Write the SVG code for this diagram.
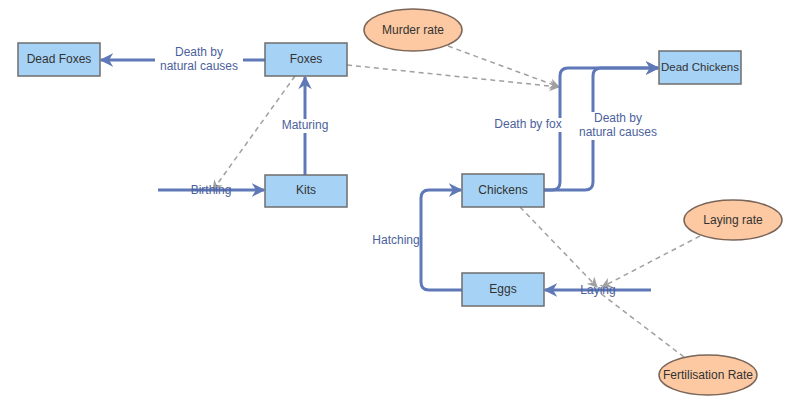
<svg xmlns="http://www.w3.org/2000/svg" width="800" height="406" viewBox="0 0 800 406">
<style>
.box{fill:#a6d2f6;stroke:#6e6e6e;stroke-width:1.5}
.ell{fill:#fcc9a2;stroke:#7a6558;stroke-width:1.5}
.t{font-family:"Liberation Sans",sans-serif;font-size:12px;fill:#333;text-anchor:middle;dominant-baseline:middle}
.lbl{font-family:"Liberation Sans",sans-serif;font-size:12px;fill:#4c5f9c;text-anchor:middle;dominant-baseline:middle}
.flow{fill:none;stroke:#5f78b8;stroke-width:3;stroke-linejoin:round}
.dash{fill:none;stroke:#a0a0a0;stroke-width:1.5;stroke-dasharray:5,4}
</style>
<defs>
<marker id="fa" viewBox="0 0 10 10" refX="9" refY="5" markerWidth="4.5" markerHeight="4.5" orient="auto" markerUnits="strokeWidth"><path d="M0,0 L10,5 L0,10 L3,5 z" fill="#5f78b8"/></marker>
<marker id="da" viewBox="0 0 10 10" refX="9" refY="5" markerWidth="7" markerHeight="7" orient="auto" markerUnits="strokeWidth"><path d="M0,0 L10,5 L0,10 L3,5 z" fill="#a0a0a0"/></marker>
</defs>
<g id="connectors">
<path class="dash" d="M347,65 L559,87" marker-end="url(#da)"/>
<path class="dash" d="M448,46 L559,87" marker-end="url(#da)"/>
<path class="dash" d="M295,76 L213,190" marker-end="url(#da)"/>
<path class="dash" d="M520,207 L597,287" marker-end="url(#da)"/>
<path class="dash" d="M700,236 L602,287" marker-end="url(#da)"/>
<path class="dash" d="M684,357 L600,293"/>
<path class="flow" d="M265,60 L101,60" marker-end="url(#fa)"/>
<path class="flow" d="M305,175 L305,77" marker-end="url(#fa)"/>
<path class="flow" d="M158,190 L264,190" marker-end="url(#fa)"/>
<path class="flow" d="M544,190 L552,190 Q560,190 560,182 L560,76 Q560,68 568,68 L658,68" marker-end="url(#fa)"/>
<path class="flow" d="M544,190 L585,190 Q593,190 593,182 L593,76 Q593,68 601,68 L658,68" marker-end="url(#fa)"/>
<path class="flow" d="M462,290 L429,290 Q421,290 421,282 L421,198 Q421,190 429,190 L461,190" marker-end="url(#fa)"/>
<path class="flow" d="M651,290 L545,290" marker-end="url(#fa)"/>
<rect x="155" y="46" width="88" height="30" fill="#fff"/>
<text class="lbl" x="199" y="53">Death by</text>
<text class="lbl" x="199" y="67">natural causes</text>
<rect x="282" y="119" width="46" height="14" fill="#fff"/>
<text class="lbl" x="305" y="126">Maturing</text>
<text class="lbl" x="211" y="191">Birthing</text>
<rect x="492" y="118" width="72" height="14" fill="#fff"/>
<text class="lbl" x="528" y="125">Death by fox</text>
<rect x="580" y="112" width="78" height="28" fill="#fff"/>
<text class="lbl" x="618" y="119">Death by</text>
<text class="lbl" x="618" y="133">natural causes</text>
<text class="lbl" x="396" y="241">Hatching</text>
<text class="lbl" x="598" y="291">Laying</text>
</g>
<g id="dead-foxes"><rect class="box" x="18" y="43" width="82" height="33"/><text class="t" x="59" y="60">Dead Foxes</text></g>
<g id="foxes"><rect class="box" x="265" y="43" width="82" height="33"/><text class="t" x="306" y="60">Foxes</text></g>
<g id="kits"><rect class="box" x="265" y="175" width="82" height="32"/><text class="t" x="306" y="191">Kits</text></g>
<g id="dead-chickens"><rect class="box" x="659" y="51" width="82" height="33"/><text class="t" x="700" y="68" style="font-size:11.5px">Dead Chickens</text></g>
<g id="chickens"><rect class="box" x="462" y="174" width="82" height="33"/><text class="t" x="503" y="191">Chickens</text></g>
<g id="eggs"><rect class="box" x="462" y="273" width="82" height="33"/><text class="t" x="503" y="290">Eggs</text></g>
<g id="murder-rate"><ellipse class="ell" cx="413" cy="30" rx="49" ry="21"/><text class="t" x="413" y="31">Murder rate</text></g>
<g id="laying-rate"><ellipse class="ell" cx="733" cy="220" rx="49" ry="20"/><text class="t" x="733" y="221">Laying rate</text></g>
<g id="fertilisation-rate"><ellipse class="ell" cx="708" cy="375" rx="49" ry="20"/><text class="t" x="708" y="376">Fertilisation Rate</text></g>
</svg>
